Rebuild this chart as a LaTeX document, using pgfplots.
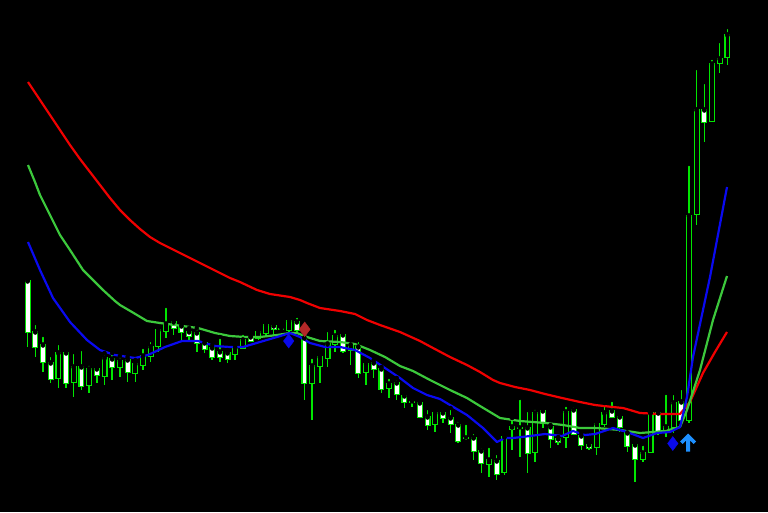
\documentclass[border=0pt]{standalone}
\usepackage{pgfplots}
\pgfplotsset{compat=1.18}
\usepackage{pgfplotstable}

\definecolor{candle}{RGB}{0,230,0}
\definecolor{maRed}{RGB}{240,0,0}
\definecolor{maGreen}{RGB}{60,200,60}
\definecolor{maBlue}{RGB}{10,10,240}
\definecolor{sigRed}{RGB}{180,40,40}
\definecolor{sigBlue}{RGB}{10,10,235}
\definecolor{sigArrow}{RGB}{30,144,255}

% up arrow signal
\pgfdeclareplotmark{uparrow}{%
  \pgfpathmoveto{\pgfqpoint{0pt}{9pt}}%
  \pgfpathlineto{\pgfqpoint{8pt}{1pt}}%
  \pgfpathlineto{\pgfqpoint{5.5pt}{-1.5pt}}%
  \pgfpathlineto{\pgfqpoint{2pt}{2pt}}%
  \pgfpathlineto{\pgfqpoint{2pt}{-9pt}}%
  \pgfpathlineto{\pgfqpoint{-2pt}{-9pt}}%
  \pgfpathlineto{\pgfqpoint{-2pt}{2pt}}%
  \pgfpathlineto{\pgfqpoint{-5.5pt}{-1.5pt}}%
  \pgfpathlineto{\pgfqpoint{-8pt}{1pt}}%
  \pgfpathclose
  \pgfusepathqfill
}

% candles, in screen rows (smaller = higher price)
\pgfplotstableread{
x o h l c
27.6 281 280 347 332
35.3 332 323 357 347
43.0 345 335 372 362
50.7 363 355 383 379
58.4 378 343 388 353
66.1 353 351 388 383
73.7 382 352 397 367
81.4 367 349 390 386
89.1 385 364 393 369
96.8 369 366 383 375
104.5 376 353 385 358
112.2 359 353 380 367
119.9 367 356 377 361
127.6 360 357 382 372
135.3 373 360 382 364
143.0 365 347 370 356
150.6 356 340 362 347
158.3 346 327 352 330
166.0 331 306 338 324
173.7 322 318 335 328
181.4 326 323 340 332
189.1 332 328 342 336
196.8 333 328 352 343
204.5 343 340 353 349
212.2 348 345 360 357
219.9 352 337 362 357
227.5 353 350 363 359
235.2 354 345 360 348
242.9 348 333 348 340
250.6 337 334 341 341
258.3 338 328 340 332
266.0 333 322 337 325
273.7 326 323 335 329
281.4 329 325 330 329
289.1 330 318 332 321
296.8 322 316 333 330
304.4 338 333 400 383
312.1 383 357 420 366
319.8 366 353 383 357
327.5 358 330 367 344
335.2 344 328 352 336
342.9 335 332 353 351
350.6 350 340 365 345
358.3 347 340 378 373
366.0 372 360 385 364
373.7 363 360 378 369
381.4 369 367 393 389
389.0 388 377 398 384
396.7 383 378 400 394
404.4 396 393 408 402
412.1 402 398 407 402
419.8 403 402 418 417
427.5 417 408 430 425
435.2 424 410 432 413
442.9 413 409 423 418
450.6 418 408 433 424
458.2 425 420 443 441
465.9 438 423 440 438
473.6 438 432 460 451
481.3 451 446 473 463
489.0 464 446 477 460
496.7 461 453 480 474
504.4 472 436 475 437
512.1 429 418 450 427
519.8 428 398 457 428
527.5 428 410 473 453
535.1 452 408 462 413
542.8 411 408 428 423
550.5 427 425 448 439
558.2 439 437 445 442
565.9 437 405 448 412
573.6 410 405 435 434
581.3 436 433 450 445
589.0 445 442 450 448
596.7 447 422 455 424
604.4 424 403 427 413
612.0 411 400 417 417
619.7 417 413 432 427
627.4 433 428 452 446
635.1 445 442 482 459
642.8 459 444 462 453
650.5 452 413 453 413
658.2 413 410 435 432
665.9 432 393 437 427
673.6 427 393 433 403
681.3 402 388 425 420
688.9 420 164 423 216
696.6 214 68 225 110
704.3 110 82 142 122
712.0 121 58 121 64
719.7 63 41 73 59
727.4 57 27 65 35
}\candles

\begin{document}
\begin{tikzpicture}
\begin{axis}[
    width=768pt, height=512pt, scale only axis,
    xmin=0, xmax=768, ymin=0, ymax=512,
    y dir=reverse,
    axis lines=none, ticks=none,
    axis background/.style={fill=black},
    ]
% wicks
\addplot[only marks, mark=none, forget plot,
    error bars/.cd, y dir=plus, y explicit, error mark=none,
    error bar style={draw=candle, line width=1.5pt}]
    table[x=x, y=h, y error plus expr={\thisrow{l}-\thisrow{h}}] {\candles};
% body outlines
\addplot[only marks, mark=none, forget plot,
    error bars/.cd, y dir=plus, y explicit, error mark=none,
    error bar style={draw=candle, line width=6pt}]
    table[x=x, y expr={min(\thisrow{o},\thisrow{c})-0.6},
          y error plus expr={abs(\thisrow{o}-\thisrow{c})+1.2}] {\candles};
% bear bodies (white)
\addplot[only marks, mark=none, forget plot,
    restrict expr to domain={\thisrow{c}-\thisrow{o}}{1.5:1000},
    error bars/.cd, y dir=plus, y explicit, error mark=none,
    error bar style={draw=white, line width=3.8pt}]
    table[x=x, y expr={\thisrow{o}+0.5},
          y error plus expr={\thisrow{c}-\thisrow{o}-1}] {\candles};
% bull bodies (hollow)
\addplot[only marks, mark=none, forget plot,
    restrict expr to domain={\thisrow{o}-\thisrow{c}}{1.5:1000},
    error bars/.cd, y dir=plus, y explicit, error mark=none,
    error bar style={draw=black, line width=3.8pt}]
    table[x=x, y expr={\thisrow{c}+0.5},
          y error plus expr={\thisrow{o}-\thisrow{c}-1}] {\candles};

% slow MA
\addplot[maRed, line width=2.2pt, line join=round] coordinates {
(28,82) (40,100) (50,115) (60,130) (70,145) (80,159) (90,172) (100,185)
(110,198) (120,210) (130,220) (140,229) (150,237) (160,243) (170,248)
(180,253) (190,258) (200,263) (210,268) (220,273) (230,278) (240,282)
(257,290) (270,294) (290,297) (300,300) (307,303) (320,308) (340,311)
(355,314) (367,320) (380,325) (400,332) (420,341) (433,348) (450,357)
(467,365) (480,372) (493,380) (500,383) (515,387) (530,390) (545,394)
(562,398) (580,402) (595,405) (613,407) (623,408) (630,410) (640,413)
(660,414) (680,414) (690,402) (703,373) (715,352) (727,332)
};
% middle MA
\addplot[maGreen, line width=2.2pt, line join=round] coordinates {
(28,165) (35,182) (40,195) (50,215) (60,235) (70,250) (83,270) (95,282)
(103,290) (115,301) (120,305) (132,312) (147,321) (160,323) (175,325)
(190,327) (198,328) (215,333) (230,336) (245,337) (260,337) (277,335)
(290,333) (297,333) (307,337) (320,341) (340,342) (355,344) (370,350)
(385,357) (400,366) (413,371) (430,380) (450,390) (467,398) (480,406)
(500,418) (520,421) (546,423) (563,425) (580,428) (597,428) (620,430)
(640,433) (653,432) (665,431) (680,427) (687,410) (700,370) (713,320)
(727,276)
};
% fast MA
\addplot[maBlue, line width=2.2pt, line join=round] coordinates {
(28,242) (40,270) (53,298) (70,322) (87,340) (100,350) (115,355) (135,358)
(148,355) (165,347) (182,341) (198,341) (215,346) (230,347) (243,347)
(260,342) (277,337) (290,333) (300,337) (310,343) (325,347) (340,347)
(355,350) (370,358) (385,368) (400,378) (413,388) (427,395) (440,399)
(450,405) (467,415) (483,428) (497,442) (505,438) (513,438) (530,436)
(545,434) (562,436) (573,431) (585,435) (595,434) (613,428) (627,432)
(643,438) (657,433) (670,432) (680,427) (687,397) (693,357) (710,277)
(727,187)
};

% signals
\addplot[only marks, mark=diamond*, mark size=7.3pt, sigRed] coordinates {(304.7,329.3)};
\addplot[only marks, mark=diamond*, mark size=7pt, sigBlue] coordinates {(288.7,341) (672.8,443.5)};
\addplot[only marks, mark=uparrow, sigArrow] coordinates {(688,442.5)};
\end{axis}
\end{tikzpicture}
\end{document}
